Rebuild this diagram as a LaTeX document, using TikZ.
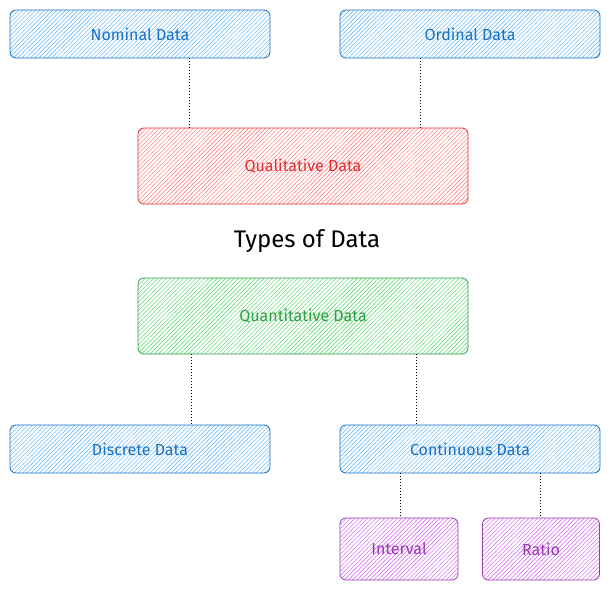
\documentclass[tikz,border=0pt]{standalone}
\usepackage{fontspec}
\setmainfont{Fira Sans}
\usetikzlibrary{patterns.meta}
\definecolor{bS}{HTML}{1971C2}\definecolor{bF}{HTML}{74C0FC}
\definecolor{rS}{HTML}{E03131}\definecolor{rF}{HTML}{FF8787}
\definecolor{gS}{HTML}{2F9E44}\definecolor{gF}{HTML}{69DB7C}
\definecolor{pS}{HTML}{9C36B5}\definecolor{pF}{HTML}{DA77F2}
\begin{document}
\begin{tikzpicture}[x=1pt,y=-1pt,
 box/.style n args={2}{draw=#1,rounded corners=6pt,line width=0.8pt,text=#1,font=\fontsize{16}{18}\selectfont,
   pattern={Lines[angle=45,distance=3pt,line width=0.6pt]},pattern color=#2,inner sep=0pt},
 con/.style={dotted,line width=1pt}]
\useasboundingbox[fill=white] (0,0) rectangle (610,589);
\node[box={bS}{bF},minimum width=260pt,minimum height=48pt] (nom) at (140,34) {Nominal Data};
\node[box={bS}{bF},minimum width=260pt,minimum height=48pt] (ord) at (470,34) {Ordinal Data};
\node[box={rS}{rF},minimum width=330pt,minimum height=76pt] (qual) at (303,166) {Qualitative Data};
\node[font=\fontsize{24}{28}\selectfont] (t) at (307,241) {Types of Data};
\node[box={gS}{gF},minimum width=330pt,minimum height=76pt] (quan) at (303,316) {Quantitative Data};
\node[box={bS}{bF},minimum width=260pt,minimum height=48pt] (dis) at (140,449) {Discrete Data};
\node[box={bS}{bF},minimum width=260pt,minimum height=48pt] (con) at (470,449) {Continuous Data};
\node[box={pS}{pF},minimum width=118pt,minimum height=62pt] (int) at (399,549) {Interval};
\node[box={pS}{pF},minimum width=117pt,minimum height=62pt] (rat) at (541,549) {Ratio};
\draw[con] (189,0 |- nom.south) -- (189,0 |- qual.north);
\draw[con] (420,0 |- ord.south) -- (420,0 |- qual.north);
\draw[con] (191,0 |- quan.south) -- (191,0 |- dis.north);
\draw[con] (416,0 |- quan.south) -- (416,0 |- con.north);
\draw[con] (400,0 |- con.south) -- (400,0 |- int.north);
\draw[con] (540,0 |- con.south) -- (540,0 |- rat.north);
\end{tikzpicture}
\end{document}
